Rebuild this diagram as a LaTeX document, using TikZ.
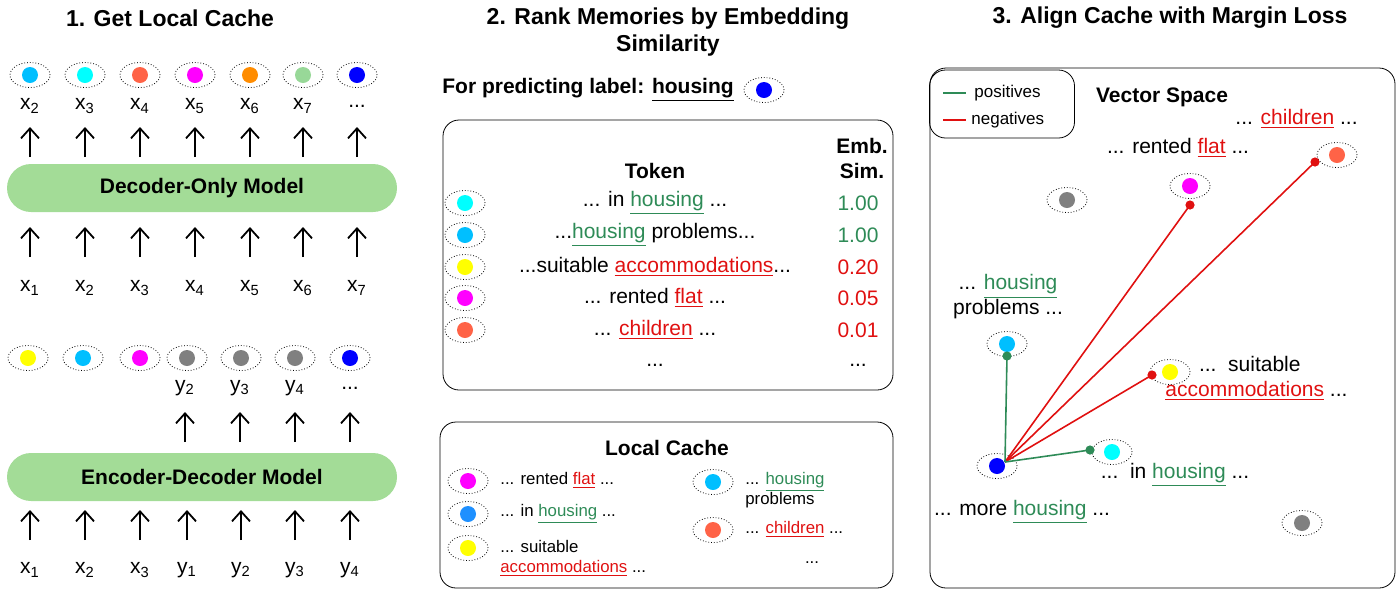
\documentclass[tikz,border=0pt]{standalone}
\usepackage{fontspec}
\setmainfont{Liberation Sans}
\usetikzlibrary{arrows.meta,shapes.geometric}
\definecolor{tg}{HTML}{2E8B57}
\definecolor{tr}{HTML}{E01010}
\definecolor{boxg}{HTML}{A3DC97}
\definecolor{cA}{HTML}{00BFFF}
\definecolor{cB}{HTML}{00FFFF}
\definecolor{cC}{HTML}{FF6347}
\definecolor{cD}{HTML}{FF00FF}
\definecolor{cE}{HTML}{FF8C00}
\definecolor{cF}{HTML}{98D898}
\definecolor{cG}{HTML}{0000FF}
\definecolor{cY}{HTML}{FFFF00}
\definecolor{cH}{HTML}{808080}
\definecolor{cI}{HTML}{1E90FF}
\newcommand\pw[1]{\textcolor{tg}{\underline{#1}}}
\newcommand\nw[1]{\textcolor{tr}{\underline{#1}}}
\newcommand\sbs[2]{#1\textsubscript{#2}}
\newcommand\tok[3]{\node[draw,densely dotted,thin,ellipse,minimum width=20pt,minimum height=12.5pt,inner sep=0pt] (#1) at (#2) {};
  \fill[#3] (#2) circle (4pt);}
\begin{document}
\begin{tikzpicture}[x=0.5pt,y=-0.5pt,
  ttl/.style={font=\fontsize{11.5}{13.5}\selectfont\bfseries},
  txt/.style={font=\fontsize{10.5}{12.5}\selectfont,inner sep=1pt},
  sm/.style={font=\fontsize{8.4}{10}\selectfont,inner sep=1pt,align=left},
  up/.style={-{Straight Barb[length=5pt,width=9pt]},line width=0.9pt},
  model/.style={fill=boxg,rounded corners=12pt,font=\fontsize{10.5}{12}\selectfont\bfseries},
  panel/.style={draw,rounded corners=8pt,thin},
  pl/.style={tg,line width=0.8pt},
  nl/.style={tr,line width=0.8pt}]
\useasboundingbox (0,0) rectangle (1398,596);
% titles
\node[ttl] (t1) at (170,18) {1. Get Local Cache};
\node[ttl,align=center] (t2) at (668,32) {2. Rank Memories by Embedding\\Similarity};
\node[ttl] (t3) at (1170,18) {3. Align Cache with Margin Loss};
% panel 1
\foreach \i/\xx/\c/\l in {1/30/cA/{\sbs{x}{2}},2/85/cB/{\sbs{x}{3}},3/140/cC/{\sbs{x}{4}},4/195/cD/{\sbs{x}{5}},5/250/cE/{\sbs{x}{6}},6/303/cF/{\sbs{x}{7}},7/357/cG/{...}}{
  \tok{a\i}{\xx,75}{\c}
  \node[txt] (al\i) at (\xx,106) {\l};
  \coordinate (ab\i) at (\xx,157); \coordinate (at\i) at (\xx,127);
  \draw[up] (ab\i) -- (at\i);
  \coordinate (bb\i) at (\xx,257); \coordinate (bt\i) at (\xx,227);
  \draw[up] (bb\i) -- (bt\i);
  \node[txt] (xl\i) at (\xx,288) {\sbs{x}{\i}};
}
\node[model,minimum width=195pt,minimum height=24pt] (dec) at (202,188) {Decoder-Only Model};
\foreach \i/\xx/\c in {1/28/cY,2/83/cA,3/140/cD,4/187/cH,5/241/cH,6/295/cH,7/350/cG}{
  \tok{b\i}{\xx,358}{\c}}
\foreach \i/\xx/\l in {1/185/{\sbs{y}{2}},2/240/{\sbs{y}{3}},3/295/{\sbs{y}{4}},4/350/{...}}{
  \node[txt] (yl\i) at (\xx,388) {\l};
  \coordinate (cb\i) at (\xx,442); \coordinate (ct\i) at (\xx,412);
  \draw[up] (cb\i) -- (ct\i);}
\node[model,minimum width=195pt,minimum height=24pt] (enc) at (202,477) {Encoder-Decoder Model};
\foreach \i/\xx/\l in {1/30/{\sbs{x}{1}},2/85/{\sbs{x}{2}},3/140/{\sbs{x}{3}},4/187/{\sbs{y}{1}},5/241/{\sbs{y}{2}},6/295/{\sbs{y}{3}},7/350/{\sbs{y}{4}}}{
  \coordinate (db\i) at (\xx,540); \coordinate (dt\i) at (\xx,510);
  \draw[up] (db\i) -- (dt\i);
  \node[txt] (zl\i) at (\xx,570) {\l};}
% panel 2
\node[txt,font=\fontsize{10.5}{12}\selectfont\bfseries,anchor=west] (pred) at (440,90) {For predicting label: \underline{housing}};
\tok{pi}{764,90}{cG}
\node[panel,minimum width=225pt,minimum height=135pt] (rank) at (668,255) {};
\node[txt,font=\fontsize{10.5}{12}\selectfont\bfseries] (tokh) at (655,171) {Token};
\node[txt,font=\fontsize{10.5}{12.5}\selectfont\bfseries,align=center] (simh) at (862,158) {Emb.\\Sim.};
\foreach \i/\yy/\c/\t/\s/\sc in {1/203/cB/{... in \pw{housing} ...}/1.00/tg,2/235/cA/{...\pw{housing} problems...}/1.00/tg,3/267/cY/{...suitable \nw{accommodations}...}/0.20/tr,4/298/cD/{... rented \nw{flat} ...}/0.05/tr,5/330/cC/{... \nw{children} ...}/0.01/tr}{
  \tok{r\i}{465,\yy}{\c}
  \node[txt] (rt\i) at (655,\yy) {\t};
  \node[txt,text=\sc] (rs\i) at (858,\yy) {\s};}
\node[txt] (rd1) at (655,365) {...};
\node[txt] (rd2) at (858,365) {...};
\node[panel,minimum width=226.5pt,minimum height=83pt] (lc) at (666.5,505) {};
\node[txt,font=\fontsize{10.5}{12}\selectfont\bfseries] (lch) at (667,448) {Local Cache};
\tok{l1}{468,481}{cD}
\node[sm,anchor=west] (lt1) at (498,480) {... rented \nw{flat} ...};
\tok{l2}{468,514}{cI}
\node[sm,anchor=west] (lt2) at (498,514) {... in \pw{housing} ...};
\tok{l3}{468,548}{cY}
\node[sm,anchor=north west] (lt3) at (498,538) {... suitable\\\nw{accommodations} ...};
\tok{l4}{713,482}{cA}
\node[sm,anchor=north west] (lt4) at (743,470) {... \pw{housing}\\problems};
\tok{l5}{713,530}{cC}
\node[sm,anchor=west] (lt5) at (743,529) {... \nw{children} ...};
\node[sm] (ld) at (812,563) {...};
% panel 3
\node[panel,minimum width=232.5pt,minimum height=260pt] (vsp) at (1162.5,328) {};
\node[panel,minimum width=72.5pt,minimum height=34pt] (leg) at (1002,104) {};
\coordinate (lg1) at (943,93); \coordinate (lg2) at (966,93);
\draw[pl] (lg1) -- (lg2);
\node[sm,font=\fontsize{8.5}{10}\selectfont,anchor=west] (lgt1) at (972,93) {positives};
\coordinate (lg3) at (943,120); \coordinate (lg4) at (966,120);
\draw[nl] (lg3) -- (lg4);
\node[sm,font=\fontsize{8.5}{10}\selectfont,anchor=west] (lgt2) at (969,120) {negatives};
\node[txt,font=\fontsize{10.5}{12}\selectfont\bfseries] (vst) at (1162,97) {Vector Space};
\node[txt,anchor=east] (vch) at (1360,119) {... \nw{children} ...};
\node[txt] (vfl) at (1178,148) {... rented \nw{flat} ...};
\node[txt,align=center] (vhp) at (1008,297) {... \pw{housing}\\problems ...};
\node[txt,align=left,anchor=north west] (vsa) at (1163,354) {\hspace*{1.6em}...\ \ suitable\\\nw{accommodations} ...};
\node[txt] (vih) at (1175,475) {...\ \ in \pw{housing} ...};
\node[txt] (vmh) at (1022,512) {... more \pw{housing} ...};
\tok{v0}{997,466}{cG}
\tok{vc}{1337,155}{cC}
\tok{vf}{1190,186}{cD}
\tok{vg1}{1067,200}{cH}
\tok{vh}{1007,344}{cA}
\tok{vs}{1170,372}{cY}
\tok{vi}{1112,452}{cB}
\tok{vg2}{1302,523}{cH}
\coordinate (e0) at (1005,462);
\coordinate (ech) at (1315,162);
\coordinate (efl) at (1190,205);
\coordinate (esa) at (1152,375);
\coordinate (ehp) at (1007,356);
\coordinate (ein) at (1090,450);
\draw[nl] (e0) -- (ech); \fill[tr] (ech) circle (2.3pt);
\draw[nl] (e0) -- (efl); \fill[tr] (efl) circle (2.3pt);
\draw[nl] (e0) -- (esa); \fill[tr] (esa) circle (2.3pt);
\draw[pl] (e0) -- (ehp); \fill[tg] (ehp) circle (2.3pt);
\draw[pl] (e0) -- (ein); \fill[tg] (ein) circle (2.3pt);
\end{tikzpicture}
\end{document}
